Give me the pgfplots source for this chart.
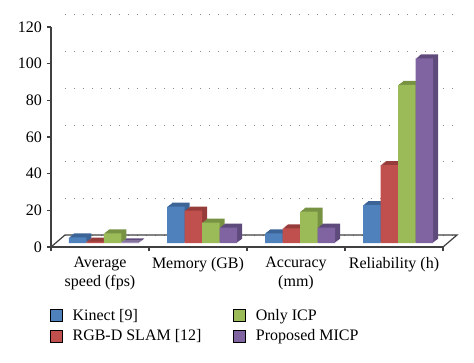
\documentclass[border=0pt]{standalone}
\usepackage{fontspec}
\setmainfont{Liberation Serif}
\usepackage{pgfplots}
\pgfplotsset{compat=1.18}
\usepackage{pgfplotstable}

\definecolor{cblue}{HTML}{4F81BD}
\definecolor{cbluedk}{HTML}{3C6496}
\definecolor{cred}{HTML}{C0504D}
\definecolor{creddk}{HTML}{963C3A}
\definecolor{cgreen}{HTML}{9BBB59}
\definecolor{cgreendk}{HTML}{789244}
\definecolor{cpurple}{HTML}{8064A2}
\definecolor{cpurpledk}{HTML}{5F4A7C}

% x: category index
\pgfplotstableread{
x kinect rgbd icp micp
0 3.1  0.7  5.3  0.4
1 19.8 17.6 11.1 8.4
2 5.3  8.0  17.1 8.4
3 20.7 42.5 86.2 100.7
}\datatable

\pgfplotsset{
  frontbar/.style={ybar, bar width=17.5bp, bar shift=#1, draw=none, xshift=4bp, yshift=4bp, forget plot},
  backbar/.style 2 args={ybar, bar width=17.5bp, bar shift=#1, draw=none, xshift={4bp+#2*1bp}, yshift={4bp+#2*0.8bp}, forget plot},
  sqlegend/.style={legend image code/.code={\fill[##1] (0bp,-6bp) rectangle (12bp,6bp);}},
}

\begin{document}
\begin{tikzpicture}
\useasboundingbox (-51bp,-116bp) rectangle (423bp,247bp);
\begin{axis}[
  at={(0,0)}, anchor=south west,
  scale only axis, width=392bp, height=220bp,
  xmin=-0.5, xmax=3.5, ymin=0, ymax=120,
  clip=false,
  axis x line=bottom, axis y line=left,
  axis line style={-, line width=1.2bp, color=black!75},
  ytick={0,20,...,120},
  xtick={0,1,2,3},
  xticklabels={{Average\\speed (fps)},{Memory (GB)},{Accuracy\\(mm)},{Reliability (h)}},
  minor xtick={-0.5,0.5,1.5,2.5,3.5},
  major x tick style={draw=none},
  minor x tick style={line width=1.2bp, color=black!75},
  ytick style={line width=1.2bp, color=black!75},
  tick align=outside,
  major tick length=3.5bp, minor tick length=4bp,
  ymajorgrids,
  major grid style={line width=1bp, color=black!45, dash pattern=on 1bp off 8bp, xshift=14bp, yshift=12bp},
  /pgf/number format/assume math mode=true,
  ticklabel style={font=\fontsize{16bp}{18.5bp}\selectfont},
  xticklabel style={align=center, yshift=-3bp},
  yticklabel style={xshift=-2bp},
  legend columns=2,
  legend cell align=left,
  legend style={at={(axis description cs:0,0)}, anchor=north west, xshift=-1bp, yshift=-60bp,
    draw=none, fill=none, inner sep=0pt, row sep=4bp,
    font=\fontsize{16bp}{19bp}\selectfont,
    /tikz/every odd column/.append style={column sep=8bp},
    /tikz/every even column/.append style={column sep=30bp}},
]
% floor (3D base)
\draw[line width=1.2bp, color=black!75]
  (axis cs:-0.5,0) -- ([xshift=14bp,yshift=12bp]axis cs:-0.5,0)
  -- ([xshift=14bp,yshift=12bp]axis cs:3.5,0) -- (axis cs:3.5,0);

\pgfplotsinvokeforeach{5,4,3,2,1}{\addplot[backbar={-26.25bp}{#1}, fill=cbluedk] table[x=x,y=kinect]{\datatable};}
\addplot[frontbar=-26.25bp, fill=cblue]    table[x=x,y=kinect]{\datatable};
\pgfplotsinvokeforeach{5,4,3,2,1}{\addplot[backbar={-8.75bp}{#1}, fill=creddk] table[x=x,y=rgbd]{\datatable};}
\addplot[frontbar=-8.75bp, fill=cred]      table[x=x,y=rgbd]{\datatable};
\pgfplotsinvokeforeach{5,4,3,2,1}{\addplot[backbar={8.75bp}{#1}, fill=cgreendk] table[x=x,y=icp]{\datatable};}
\addplot[frontbar=8.75bp, fill=cgreen]     table[x=x,y=icp]{\datatable};
\pgfplotsinvokeforeach{5,4,3,2,1}{\addplot[backbar={26.25bp}{#1}, fill=cpurpledk] table[x=x,y=micp]{\datatable};}
\addplot[frontbar=26.25bp, fill=cpurple]   table[x=x,y=micp]{\datatable};

\addlegendimage{sqlegend, fill=cblue}
\addlegendentry{Kinect [9]}
\addlegendimage{sqlegend, fill=cgreen}
\addlegendentry{Only ICP}
\addlegendimage{sqlegend, fill=cred}
\addlegendentry{RGB-D SLAM [12]}
\addlegendimage{sqlegend, fill=cpurple}
\addlegendentry{Proposed MICP}
\end{axis}
\end{tikzpicture}
\end{document}
